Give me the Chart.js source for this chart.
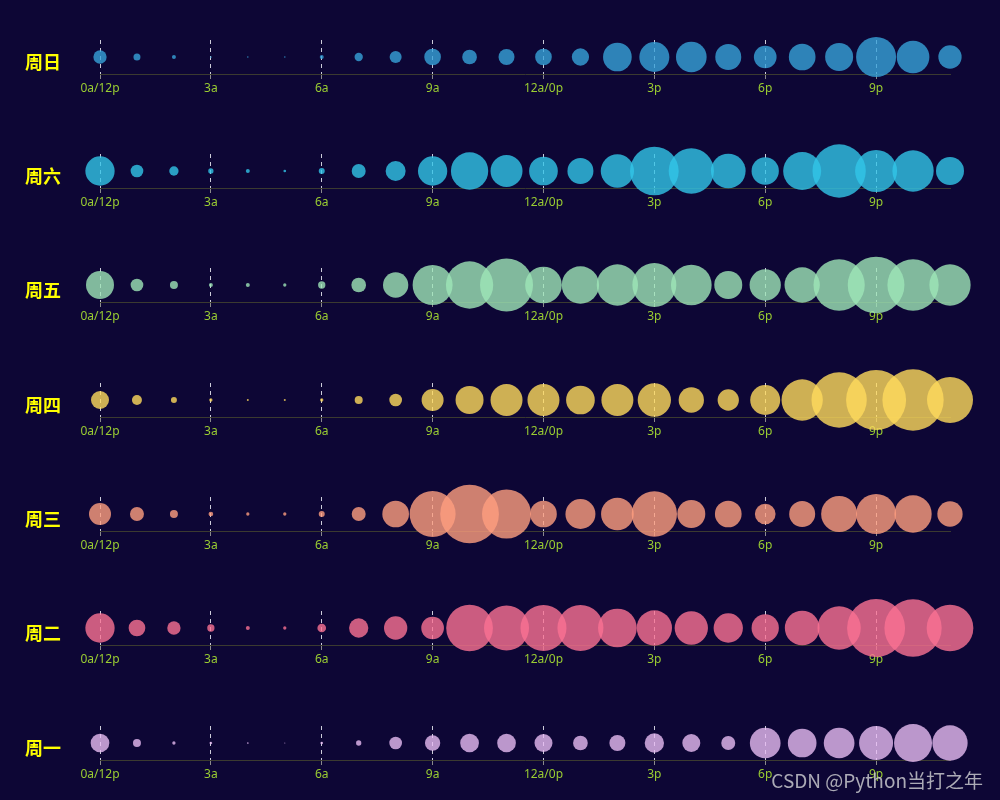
<!DOCTYPE html>
<html>
<head>
<meta charset="utf-8">
<script src="https://cdn.jsdelivr.net/npm/chart.js@4/dist/chart.umd.min.js"></script>
<style>
  html, body { margin:0; padding:0; background:#0d0635; width:1000px; height:800px; overflow:hidden; }
  #wrap { position:relative; width:1000px; height:800px; }
  canvas.row { position:absolute; left:0; }
  #mark { position:absolute; right:17px; top:766px; font-family:"Noto Sans CJK SC","Noto Sans",sans-serif; font-size:19px; color:rgba(200,200,205,0.85); white-space:nowrap; }
</style>
</head>
<body>
<div id="wrap"></div>
<div id="mark">CSDN @Python当打之年</div>
<script>
// ---- data ----
const hours = [0,1,2,3,4,5,6,7,8,9,10,11,12,13,14,15,16,17,18,19,20,21,22,23];
const tickLabels = ['0a/12p','3a','6a','9a','12a/0p','3p','6p','9p'];
const days = ['周日','周六','周五','周四','周三','周二','周一'];

const sun = [13.3,7,4,1.7,1.5,1.5,4,8.3,12,16.7,14.7,16,16.7,17.3,28.7,30,30.7,26,22.7,26.7,28,40,32.7,23.3];
const sat = [29.3,12.7,9.3,5.3,4,2.7,6,14,20,29.3,37.3,32,28.7,26,33.3,48.7,45.3,34.7,27.3,38,53.3,42,41.3,28];
const fri = [28,12.7,8,4,4,3.3,7.3,14.7,25.3,40,47.3,53,36.7,37.3,41.3,44,40.7,28,31.3,35.3,51.3,56.7,51.3,41.3];
const thu = [18,10,6,3.3,2,2,3.3,8,12.7,22,28,32,32,28.7,32,33.3,25.3,21.3,30,41.3,55.3,60,61.3,46];
const wed = [22,14,8,4.7,3.3,3.3,6,14,26.7,46,58.7,49,26.7,30,32.7,45.3,28,26.7,20.7,26,36,40,37.3,25.3];
const tue = [29.3,16.7,13.3,7.3,4,3.3,8.7,19.3,23.3,22.7,46.7,45,46,46,38.7,35.3,33.3,29.3,27.3,34.7,43.3,58,57.3,46.7];
const mon = [18.7,8,3.3,2.7,1.7,1,2.7,5.3,12.7,15.3,18.7,18.7,18,14.7,16,19.3,18,14,30.7,28.7,30.7,34,38,35.3];

const series = [sun, sat, fri, thu, wed, tue, mon];
const colors = ['#37A2DA','#32C5E9','#9FE6B8','#FFDB5C','#ff9f7f','#fb7293','#e7bcf3'];

// ---- layout ----
const rowTops = [0,114,228,343,457,571,686];
const ROW_H = 114;

function hexA(hex, a){
  const n = parseInt(hex.slice(1),16);
  return `rgba(${(n>>16)&255},${(n>>8)&255},${n&255},${a})`;
}

const wrap = document.getElementById('wrap');
days.forEach((day, i) => {
  const cv = document.createElement('canvas');
  cv.className = 'row';
  cv.width = 1000; cv.height = ROW_H;
  cv.style.top = rowTops[i] + 'px';
  cv.style.width = '1000px'; cv.style.height = ROW_H + 'px';
  wrap.appendChild(cv);

  const vals = series[i];
  new Chart(cv.getContext('2d'), {
    type: 'bubble',
    data: {
      datasets: [{
        label: day,
        data: hours.map((h, k) => ({ x: h, y: 0, r: vals[k] / 2 })),
        backgroundColor: hexA(colors[i], 0.8),
        borderWidth: 0,
        hoverBorderWidth: 0,
        clip: false
      }]
    },
    options: {
      responsive: false,
      animation: false,
      events: [],
      layout: { autoPadding: false, padding: { left: 0, right: 50, top: 40, bottom: 10 } },
      plugins: { legend: { display: false }, tooltip: { enabled: false } },
      scales: {
        x: {
          type: 'linear',
          min: 0, max: 23,
          afterFit: s => { s.height = 30; s.paddingLeft = 0; s.paddingRight = 0; },
          ticks: {
            stepSize: 3,
            includeBounds: false,
            autoSkip: false,
            maxRotation: 0,
            padding: 2,
            color: '#9ACD32',
            font: { family: '"Noto Sans", sans-serif', size: 12 },
            callback: v => tickLabels[v / 3]
          },
          grid: {
            display: true,
            color: 'rgba(225,225,235,0.9)',
            lineWidth: 1,
            drawTicks: true,
            tickLength: 5,
            tickColor: '#8a8a8a',
            tickWidth: 1
          },
          border: { display: true, color: '#3b3a30', width: 1, dash: [4, 4] }
        },
        y: {
          type: 'linear',
          min: -1, max: 1,
          afterFit: s => { s.width = 100; s.paddingTop = 0; s.paddingBottom = 0; },
          afterBuildTicks: s => { s.ticks = [{ value: 0 }]; },
          ticks: {
            padding: 39,
            labelOffset: 5,
            color: '#ffff00',
            font: { family: '"Noto Sans CJK SC", sans-serif', size: 18, weight: 'bold' },
            callback: () => day
          },
          grid: { display: false, drawTicks: false },
          border: { display: false }
        }
      }
    }
  });
});
</script>
</body>
</html>
